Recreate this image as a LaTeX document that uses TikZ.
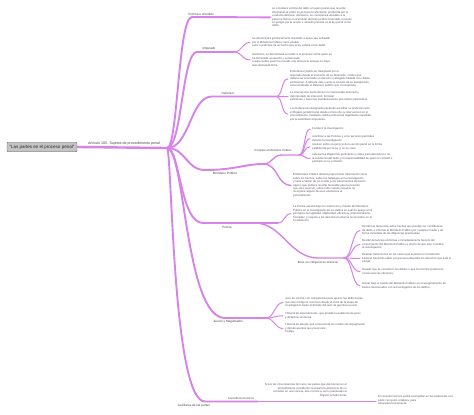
\documentclass[tikz,border=0pt]{standalone}
\usepackage{fontspec}
\setmainfont{Liberation Sans}
\definecolor{brc}{RGB}{214,132,232}
\definecolor{txt}{RGB}{92,84,98}
\definecolor{labc}{RGB}{70,66,74}
\definecolor{rootfill}{RGB}{196,196,196}
\definecolor{rootdraw}{RGB}{110,110,110}
\tikzset{
  leaf/.style={font=\fontsize{2.8}{3.4}\selectfont, text=txt, align=left, anchor=north west, inner sep=0pt},
  lab/.style={font=\fontsize{3.1}{3.6}\selectfont, text=labc, inner sep=0pt},
  sublab/.style={font=\fontsize{2.8}{3.4}\selectfont, text=labc, inner sep=0pt},
  trunk/.style={draw=brc, line width=2.4pt, line cap=round},
  br/.style={draw=brc, line width=1.9pt, line cap=round},
  sub/.style={draw=brc, line width=1.4pt, line cap=round},
  lf/.style={draw=brc, line width=1pt, line cap=round}
}
\begin{document}
\begin{tikzpicture}[x=1pt,y=-1pt]
\useasboundingbox (0,0) rectangle (474,415);
\fill[white] (0,0) rectangle (474,415);

% root
\node[draw=rootdraw, fill=rootfill, rounded corners=1pt, minimum width=70pt, minimum height=9.5pt, inner sep=0pt,
      font=\fontsize{4.5}{5}\selectfont, text=black!85] (root) at (42,147) {"Las partes en el proceso penal"};
\node[lab, font=\fontsize{3.6}{4}\selectfont] (art) at (124,144) {Artículo 105. Sujetos de procedimiento penal};
\coordinate (hub) at (167,148);

% main labels
\node[lab] (vic) at (201,14) {Víctima u ofendido};
\node[lab] (imp) at (209,49) {Imputado};
\node[lab] (def) at (228,93) {Defensor};
\node[lab] (min) at (225,173.5) {Ministerio Público};
\node[sublab] (comp) at (273,151) {Compete al Ministerio Público};
\node[lab] (pol) at (227,227) {Policía};
\node[sublab] (ent) at (318,263) {Entre sus obligaciones destacan};
\node[lab] (jue) at (228,322) {Jueces y Magistrados};
\node[lab] (aux) at (194,406) {Auxiliares de las partes};
\node[sublab] (cons) at (241,398) {Consultores técnicos};

% leaves
\node[leaf] (vicl) at (272,7.6) {se considera víctima del delito al sujeto pasivo que resiente\\directamente sobre su persona la afectación producida por la\\conducta delictiva. Asimismo, se considerará ofendido a la\\persona física o moral titular del bien jurídico lesionado o puesto\\en peligro por la acción u omisión prevista en la ley penal como\\delito.};

\node[leaf] (imp1) at (252,37.6) {Se denominará genéricamente imputado a quien sea señalado\\por el Ministerio Público como posible\\autor o partícipe de un hecho que la ley señale como delito.};
\node[leaf] (imp2) at (252,53.6) {Asimismo, se denominará acusado a la persona contra quien se\\ha formulado acusación y sentenciado\\a aquel sobre quien ha recaído una sentencia aunque no haya\\sido declarada firme.};

\node[leaf] (def1) at (290,70.6) {El Defensor podrá ser designado por el\\imputado desde el momento de su detención, mismo que\\deberá ser licenciado en derecho o abogado titulado con cédula\\profesional. A falta de éste o ante la omisión de su designación,\\será nombrado el Defensor público que corresponda.};
\node[leaf] (def2) at (290,91.6) {La intervención del Defensor no menoscaba el derecho\\del imputado de intervenir, formular\\peticiones y hacer las manifestaciones que estime pertinentes.};
\node[leaf] (def3) at (290,107.6) {Los Defensores designados deberán acreditar su profesión ante\\el Órgano jurisdiccional desde el inicio de su intervención en el\\procedimiento, mediante cédula profesional legalmente expedida\\por la autoridad competente.};

\node[leaf] (c1) at (312,127.6) {Conducir la investigación};
\node[leaf] (c2) at (312,135.6) {coordinar a las Policías y a los servicios periciales\\durante la investigación};
\node[leaf] (c3) at (312,143.6) {resolver sobre el ejercicio de la acción penal en la forma\\establecida por la ley y, en su caso,};
\node[leaf] (c4) at (312,153.6) {ordenar las diligencias pertinentes y útiles para demostrar o no,\\la existencia del delito y la responsabilidad de quien lo cometió o\\participó en su comisión.};

\node[leaf] (minl) at (293,173.6) {El Ministerio Público deberá proporcionar información veraz\\sobre los hechos, sobre los hallazgos en la investigación\\y tiene el deber de no ocultar a los intervinientes elemento\\alguno que pudiera resultar favorable para la posición\\que ellos asumen, sobre todo cuando resuelva no\\incorporar alguno de esos elementos al\\procedimiento.};

\node[leaf] (poll) at (293,205.6) {La Policía actuará bajo la conducción y mando del Ministerio\\Público en la investigación de los delitos en estricto apego a los\\principios de legalidad, objetividad, eficiencia, profesionalismo,\\honradez, y respeto a los derechos humanos reconocidos en la\\Constitución.};

\node[leaf] (e1) at (362,225.6) {Recibir las denuncias sobre hechos que puedan ser constitutivos\\de delito e informar al Ministerio Público por cualquier medio y de\\forma inmediata de las diligencias practicadas;};
\node[leaf] (e2) at (362,239.6) {Recibir denuncias anónimas e inmediatamente hacerlo del\\conocimiento del Ministerio Público a efecto de que éste coordine\\la investigación;};
\node[leaf] (e3) at (362,253.6) {Realizar detenciones en los casos que autoriza la Constitución\\Federal, haciendo saber a la persona detenida los derechos que ésta le\\otorga;};
\node[leaf] (e4) at (362,268.6) {Impedir que se consumen los delitos o que los hechos produzcan\\consecuencias ulteriores;};
\node[leaf] (e5) at (362,282.6) {Actuar bajo el mando del Ministerio Público en el aseguramiento de\\bienes relacionados con la investigación de los delitos;};

\node[leaf] (j1) at (285,297.6) {Juez de control, con competencia para ejercer las atribuciones\\que este Código le reconoce desde el inicio de la etapa de\\investigación hasta el dictado del auto de apertura a juicio};
\node[leaf] (j2) at (285,312.6) {Tribunal de enjuiciamiento, que preside la audiencia de juicio\\y dictará la sentencia};
\node[leaf] (j3) at (285,323.6) {Tribunal de alzada, que conocerá de los medios de impugnación\\y demás asuntos que prevé este\\Código};

\node[leaf, anchor=north east, align=right] (si) at (347,383.6) {Si por las circunstancias del caso, las partes que intervienen en el\\procedimiento consideran necesaria la asistencia de un\\consultor en una ciencia, arte o técnica, así lo plantearán al\\Órgano jurisdiccional.};
\node[leaf] (ct) at (378,395.6) {El consultor técnico podrá acompañar en las audiencias a la\\parte con quien colabora, para\\apoyarla técnicamente.};

% coordinates of the branches
\coordinate (vicS) at (192,17);
\coordinate (impS) at (197,52);
\coordinate (impE) at (234,52);
\coordinate (defS) at (212,96.5);
\coordinate (defE) at (276,96.5);
\coordinate (minS) at (205,170);
\coordinate (minE) at (263,164);
\coordinate (compS) at (282,155);
\coordinate (compE) at (299,155);
\coordinate (polS) at (203,223);
\coordinate (polM) at (255,223);
\coordinate (polE) at (278,223);
\coordinate (entS) at (318,258);
\coordinate (entE) at (344,258);
\coordinate (juS) at (225,318);
\coordinate (juE) at (266,318);
\coordinate (auxS) at (205,401.5);
\coordinate (conE) at (258,401.5);
\coordinate (auxE) at (376,401.5);

% connectors
\draw[trunk] (root.east) -- (hub);
\draw[br] (hub) .. controls (178,148) and (178,17) .. (vicS) -- ([xshift=-2pt]vicl.west);
\draw[br] (hub) .. controls (182,148) and (182,52) .. (impS) -- (impE);
\draw[lf] (impE) .. controls +(8,0) and +(-8,0) .. ([xshift=-2pt]imp1.west);
\draw[lf] (impE) .. controls +(8,0) and +(-8,0) .. ([xshift=-2pt]imp2.west);

\draw[br] (hub) .. controls (190,148) and (190,96.5) .. (defS) -- (defE);
\draw[lf] (defE) .. controls +(7,0) and +(-7,0) .. ([xshift=-2pt]def1.west);
\draw[lf] (defE) .. controls +(7,0) and +(-7,0) .. ([xshift=-2pt]def2.west);
\draw[lf] (defE) .. controls +(7,0) and +(-7,0) .. ([xshift=-2pt]def3.west);

\draw[br] (hub) .. controls (186,148) and (186,170) .. (minS) .. controls (235,170) and (245,164) .. (minE);
\draw[sub] (minE) .. controls (273,164) and (272,155) .. (compS) -- (compE);
\draw[sub] (minE) .. controls (279,164) and (276,185) .. ([xshift=-2pt]minl.west);
\draw[lf] (compE) .. controls +(6,0) and +(-6,0) .. ([xshift=-2pt]c1.west);
\draw[lf] (compE) .. controls +(6,0) and +(-6,0) .. ([xshift=-2pt]c2.west);
\draw[lf] (compE) .. controls +(6,0) and +(-6,0) .. ([xshift=-2pt]c3.west);
\draw[lf] (compE) .. controls +(6,0) and +(-6,0) .. ([xshift=-2pt]c4.west);

\draw[br] (hub) .. controls (180,148) and (180,223) .. (polS) -- (polE);
\draw[lf] (polE) .. controls +(7,0) and +(-7,0) .. ([xshift=-2pt]poll.west);
\draw[sub] (polM) .. controls (282,223) and (290,258) .. (entS) -- (entE);
\draw[lf] (entE) .. controls +(8,0) and +(-8,0) .. ([xshift=-2pt]e1.west);
\draw[lf] (entE) .. controls +(8,0) and +(-8,0) .. ([xshift=-2pt]e2.west);
\draw[lf] (entE) .. controls +(8,0) and +(-8,0) .. ([xshift=-2pt]e3.west);
\draw[lf] (entE) .. controls +(8,0) and +(-8,0) .. ([xshift=-2pt]e4.west);
\draw[lf] (entE) .. controls +(8,0) and +(-8,0) .. ([xshift=-2pt]e5.west);

\draw[br] (hub) .. controls (185,148) and (185,318) .. (juS) -- (juE);
\draw[lf] (juE) .. controls +(8,0) and +(-8,0) .. ([xshift=-2pt]j1.west);
\draw[lf] (juE) .. controls +(8,0) and +(-8,0) .. ([xshift=-2pt]j2.west);
\draw[lf] (juE) .. controls +(8,0) and +(-8,0) .. ([xshift=-2pt]j3.west);

\draw[br] (hub) .. controls (172,148) and (172,401.5) .. (auxS) -- (conE);
\draw[sub] (conE) -- (auxE);
\end{tikzpicture}
\end{document}
